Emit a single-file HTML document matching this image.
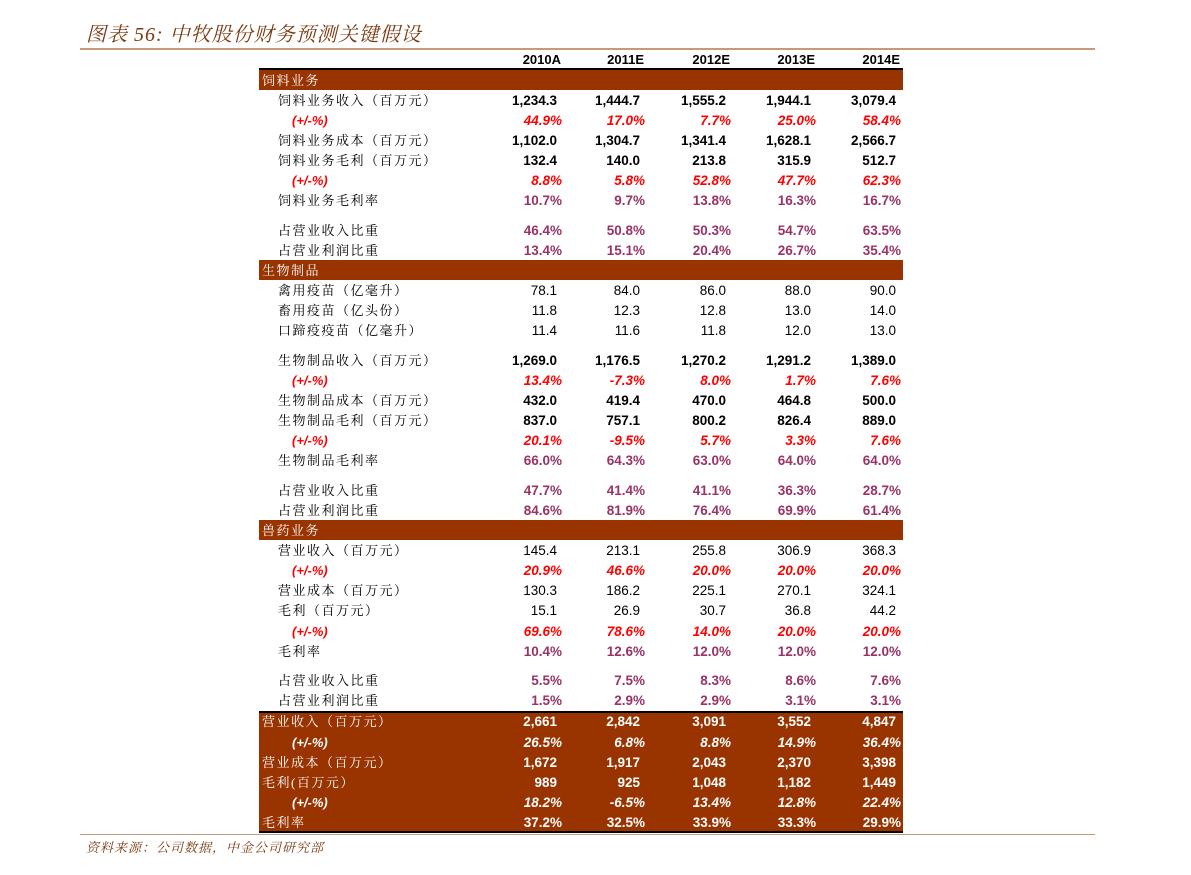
<!DOCTYPE html>
<html><head><meta charset="utf-8"><style>
body{margin:0;width:1191px;height:875px;background:#fff;position:relative;overflow:hidden;font-family:"Liberation Sans","Noto Sans CJK SC",sans-serif}
.ab{position:absolute;white-space:nowrap;line-height:20px}
.cj{font-family:"Liberation Serif","Noto Serif CJK SC",serif;font-size:13px;letter-spacing:1.5px}
.num{font-size:13.5px;text-align:right;width:80px}
.bar{position:absolute;left:259px;width:644px;background:#993300}
</style></head><body>
<div class="ab" style="left:86px;top:22px;font-size:20px;letter-spacing:1px;font-style:italic;color:#7b3a10;font-family:'Liberation Serif','Noto Serif CJK SC',serif;line-height:26px">图表 56: 中牧股份财务预测关键假设</div>
<div class="ab" style="left:80px;top:48px;width:1015px;height:2px;background:#c9977a"></div>
<div class="ab" style="left:259px;top:68px;width:644px;height:2px;background:#000"></div>
<div class="bar" style="top:711px;height:122px;border-top:2px solid #000;border-bottom:2px solid #000;box-sizing:border-box"></div>
<div class="ab" style="left:80px;top:834px;width:1015px;height:1px;background:#c9977a"></div>
<div class="ab cj" style="left:86px;top:838px;font-style:italic;color:#7b3a10;letter-spacing:1px">资料来源：公司数据，中金公司研究部</div>
<div id="t"></div>
<script>
const years=["2010A","2011E","2012E","2013E","2014E"];
const rows=[
["s",70,"饲料业务",[]],
["b",90,"饲料业务收入（百万元）",["1,234.3","1,444.7","1,555.2","1,944.1","3,079.4"]],
["r",110,"(+/-%)",["44.9%","17.0%","7.7%","25.0%","58.4%"]],
["b",130,"饲料业务成本（百万元）",["1,102.0","1,304.7","1,341.4","1,628.1","2,566.7"]],
["b",150,"饲料业务毛利（百万元）",["132.4","140.0","213.8","315.9","512.7"]],
["r",170,"(+/-%)",["8.8%","5.8%","52.8%","47.7%","62.3%"]],
["p",190,"饲料业务毛利率",["10.7%","9.7%","13.8%","16.3%","16.7%"]],
["p",220,"占营业收入比重",["46.4%","50.8%","50.3%","54.7%","63.5%"]],
["p",240,"占营业利润比重",["13.4%","15.1%","20.4%","26.7%","35.4%"]],
["s",260,"生物制品",[]],
["n",280,"禽用疫苗（亿毫升）",["78.1","84.0","86.0","88.0","90.0"]],
["n",300,"畜用疫苗（亿头份）",["11.8","12.3","12.8","13.0","14.0"]],
["n",320,"口蹄疫疫苗（亿毫升）",["11.4","11.6","11.8","12.0","13.0"]],
["b",350,"生物制品收入（百万元）",["1,269.0","1,176.5","1,270.2","1,291.2","1,389.0"]],
["r",370,"(+/-%)",["13.4%","-7.3%","8.0%","1.7%","7.6%"]],
["b",390,"生物制品成本（百万元）",["432.0","419.4","470.0","464.8","500.0"]],
["b",410,"生物制品毛利（百万元）",["837.0","757.1","800.2","826.4","889.0"]],
["r",430,"(+/-%)",["20.1%","-9.5%","5.7%","3.3%","7.6%"]],
["p",450,"生物制品毛利率",["66.0%","64.3%","63.0%","64.0%","64.0%"]],
["p",480,"占营业收入比重",["47.7%","41.4%","41.1%","36.3%","28.7%"]],
["p",500,"占营业利润比重",["84.6%","81.9%","76.4%","69.9%","61.4%"]],
["s",520,"兽药业务",[]],
["n",540,"营业收入（百万元）",["145.4","213.1","255.8","306.9","368.3"]],
["r",560,"(+/-%)",["20.9%","46.6%","20.0%","20.0%","20.0%"]],
["n",580,"营业成本（百万元）",["130.3","186.2","225.1","270.1","324.1"]],
["n",600,"毛利（百万元）",["15.1","26.9","30.7","36.8","44.2"]],
["r",621,"(+/-%)",["69.6%","78.6%","14.0%","20.0%","20.0%"]],
["p",641,"毛利率",["10.4%","12.6%","12.0%","12.0%","12.0%"]],
["p",670,"占营业收入比重",["5.5%","7.5%","8.3%","8.6%","7.6%"]],
["p",690,"占营业利润比重",["1.5%","2.9%","2.9%","3.1%","3.1%"]],
["tb",711,"营业收入（百万元）",["2,661","2,842","3,091","3,552","4,847"]],
["ti",732,"(+/-%)",["26.5%","6.8%","8.8%","14.9%","36.4%"]],
["tb",752,"营业成本（百万元）",["1,672","1,917","2,043","2,370","3,398"]],
["tb",772,"毛利(百万元）",["989","925","1,048","1,182","1,449"]],
["ti",792,"(+/-%)",["18.2%","-6.5%","13.4%","12.8%","22.4%"]],
["tb",812,"毛利率",["37.2%","32.5%","33.9%","33.3%","29.9%"]]
];
const rightEdge=[557,640,726,811,896];
const t=document.getElementById('t');
function mk(cls,css,txt){const d=document.createElement('div');d.className='ab '+cls;d.style.cssText=css;d.textContent=txt;t.appendChild(d);return d;}
years.forEach((y,i)=>{
 const d=mk('num',`left:${rightEdge[i]-76}px;top:50px;font-weight:bold;font-size:13px`,y);
 
 
});
rows.forEach((r,ri)=>{
 const [ty,top,label,vals]=r;
 if(ty==='s'){
  const b=document.createElement('div');b.className='bar';b.style.cssText=`top:${top}px;height:20px`;t.appendChild(b);
  
  
 }
 const ty2=top+1;
 const isPct=label==='(+/-%)';
 let lx=ty==='s'||ty==='tb'?262:278; if(isPct) lx=292;
 let col='#000';
 if(ty==='s'||ty==='tb'||ty==='ti') col='#fff';
 if(ty==='r') col='#f00';
 const L=mk(isPct?'':'cj',`left:${lx}px;top:${ty2}px;color:${col};font-weight:${isPct?'bold':'normal'};font-style:${isPct?'italic':'normal'};font-size:13px`,label);
 
 
 let vc='#000',vw='bold',vs='normal';
 if(ty==='n') vw='normal';
 if(ty==='r'){vc='#f00';vs='italic';}
 if(ty==='p') vc='#993366';
 if(ty==='tb') vc='#fff';
 if(ty==='ti'){vc='#fff';vs='italic';}
 vals.forEach((v,i)=>{
  const pct=v.endsWith('%');
  const re=rightEdge[i]+(pct?5:0);
  const d=mk('num',`left:${re-80}px;top:${ty2}px;color:${vc};font-weight:${vw};font-style:${vs}`,v);
  
  
 });
});
</script>
</body></html>
